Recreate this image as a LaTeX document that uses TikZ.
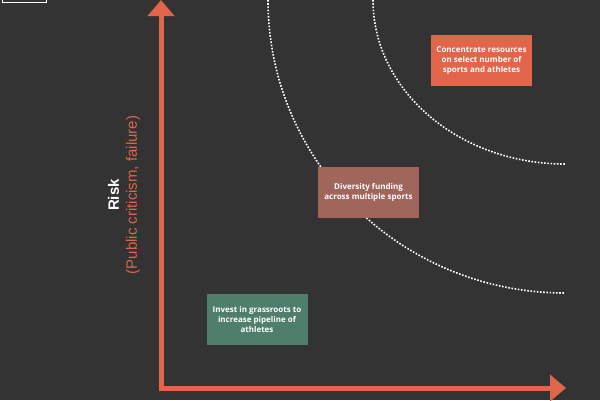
\documentclass[tikz,border=0pt]{standalone}
\usepackage{fontspec}
\setmainfont{Open Sans}
\newfontfamily\lib{Liberation Sans}
\definecolor{bg}{HTML}{333333}
\definecolor{ora}{HTML}{E0654A}
\definecolor{div}{HTML}{A0665C}
\definecolor{grn}{HTML}{4F7E6C}
\begin{document}
\begin{tikzpicture}[x=1pt,y=-1pt,
  box/.style={draw=none,text=white,font=\fontsize{8}{10}\selectfont\bfseries,align=center,minimum width=101pt,minimum height=51pt,inner sep=1pt},
  axis/.style={draw=ora,line width=5pt,-{Triangle[width=26pt,length=16pt]}},
  arcline/.style={draw=white,line width=1.6pt,dash pattern=on 1.6pt off 1.6pt}]
\usetikzlibrary{arrows.meta}
\fill[bg] (0,0) rectangle (600,400);
\useasboundingbox (0,0) rectangle (600,400);
\draw[white,line width=1pt] (2,-1) rectangle (46,2);
\coordinate (o) at (161,388);
\coordinate (ytip) at (161,0);
\coordinate (xtip) at (566,388);
\draw[axis] ([yshift=2.5pt]o) -- (ytip);
\draw[axis] ([xshift=-2.5pt]o) -- (xtip);
\draw[arcline] (268,0) arc[start angle=180,end angle=270,x radius=297,y radius=-293];
\draw[arcline] (373,0) arc[start angle=180,end angle=270,x radius=192,y radius=-164];
\node[box,fill=ora] (c) at (481.5,60.5) {Concentrate resources\\on select number of\\sports and athletes};
\node[box,fill=div] (d) at (368.5,192) {Diversity funding\\across multiple sports};
\node[box,fill=grn] (g) at (257,319.5) {Invest in grassroots to\\increase pipeline of\\athletes};
\node[rotate=90,align=center,font=\lib\fontsize{15}{18}\selectfont] (r) at (124,195) {\textcolor{white}{\bfseries Risk}\\\textcolor{ora}{(Public criticism, failure)}};
\end{tikzpicture}
\end{document}
